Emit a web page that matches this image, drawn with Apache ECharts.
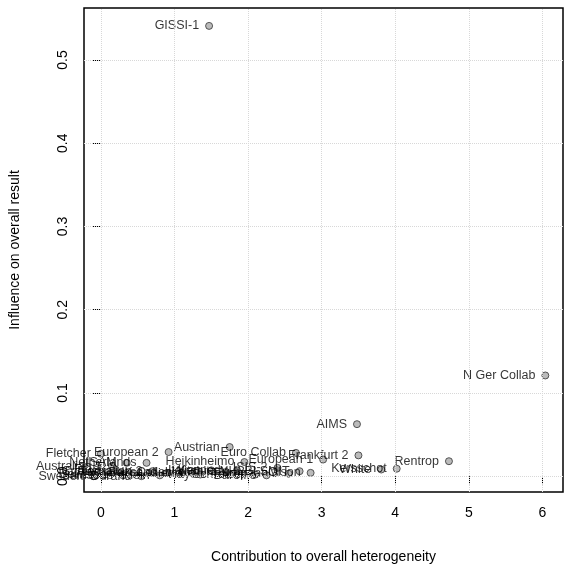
<!DOCTYPE html>
<html>
<head>
<meta charset="UTF-8">
<script src="https://cdn.jsdelivr.net/npm/echarts@6/dist/echarts.min.js"></script>
<style>body{margin:0;background:#fff}#main{width:586px;height:574px}</style>
</head>
<body>
<div id="main"></div>
<script>
// Baujat plot data: study, contribution to heterogeneity, influence on result
var studies = ["GISSI-1","N Ger Collab","AIMS","Rentrop","Austrian","Euro Collab","Frankfurt 2","European 2","European 1","White","Kersschot","Heikinheimo","Netherlands","ISAM","NHLBI SMIT","Olson","ISIS-2","Italian","UK Collab","Dewar","Fletcher","Frank","Valere","Klein","Lasierra","Witchitz","Schreiber","Cribier","Sainsous","Durand","Bassand","Vlay","Kennedy","Baroffio","Australian 1","Australian 2","European 3","Sweden"];
var contrib = [1.47,6.04,3.48,4.73,1.75,2.65,3.50,0.92,3.02,3.81,4.02,1.95,0.62,0.35,2.70,2.85,2.40,1.50,1.10,0.05,0.00,0.20,0.45,0.80,1.25,1.70,2.10,0.10,0.30,0.55,0.90,1.35,1.85,2.25,0.15,0.70,2.55,-0.10];
var influence = [0.541,0.121,0.0625,0.018,0.035,0.028,0.025,0.029,0.020,0.008,0.009,0.017,0.016,0.016,0.006,0.004,0.010,0.007,0.004,0.002,0.027,0.008,0.003,0.001,0.003,0.005,0.002,0.005,0.001,0.000,0.004,0.002,0.007,0.001,0.012,0.006,0.003,0.000];
var xTicks = [0,1,2,3,4,5,6];
var yTicks = [0,0.1,0.2,0.3,0.4,0.5];

var pts = studies.map(function (s, i) { return { name: s, value: [contrib[i], influence[i]] }; });

var chart = echarts.init(document.getElementById('main'));
chart.setOption({
  animation: false,
  textStyle: { fontFamily: 'Liberation Sans, Arial, sans-serif' },
  grid: { left: 80, right: 23, top: 8, bottom: 82, show: true, borderColor: '#000', borderWidth: 1.5 },
  xAxis: {
    type: 'value', min: -0.23, max: 6.28,
    name: 'Contribution to overall heterogeneity', nameLocation: 'middle', nameGap: 58,
    nameTextStyle: { fontSize: 14, color: '#000' },
    axisLine: { show: false },
    axisTick: { show: true, length: 8, lineStyle: { color: '#000' }, customValues: xTicks },
    axisLabel: { fontSize: 14, color: '#000', margin: 14, customValues: xTicks },
    splitLine: { show: false }
  },
  yAxis: {
    type: 'value', min: -0.019, max: 0.5625,
    name: 'Influence on overall result', nameLocation: 'middle', nameGap: 62,
    nameTextStyle: { fontSize: 14, color: '#000' },
    axisLine: { show: false },
    axisTick: { show: true, length: 8, lineStyle: { color: '#000' }, customValues: yTicks },
    axisLabel: { fontSize: 14, color: '#000', rotate: 90, margin: 14,
      customValues: yTicks,
      formatter: function (v) { return v.toFixed(1); } },
    splitLine: { show: false }
  },
  series: [{
    type: 'line', data: [], markLine: {
      silent: true, symbol: 'none', label: { show: false },
      lineStyle: { color: '#d8d8d8', type: 'dotted', width: 1 },
      data: yTicks.map(function (v) { return { yAxis: v }; })
        .concat(xTicks.map(function (v) { return { xAxis: v }; }))
    }
  }, {
    type: 'scatter',
    data: pts,
    symbolSize: 7,
    itemStyle: { color: '#aaa', borderColor: '#333', borderWidth: 1 },
    label: { show: true, position: 'left', distance: 6, formatter: '{b}', fontSize: 12.5, color: '#000' },
    labelLayout: { hideOverlap: false }
  }]
});
</script>
</body>
</html>
